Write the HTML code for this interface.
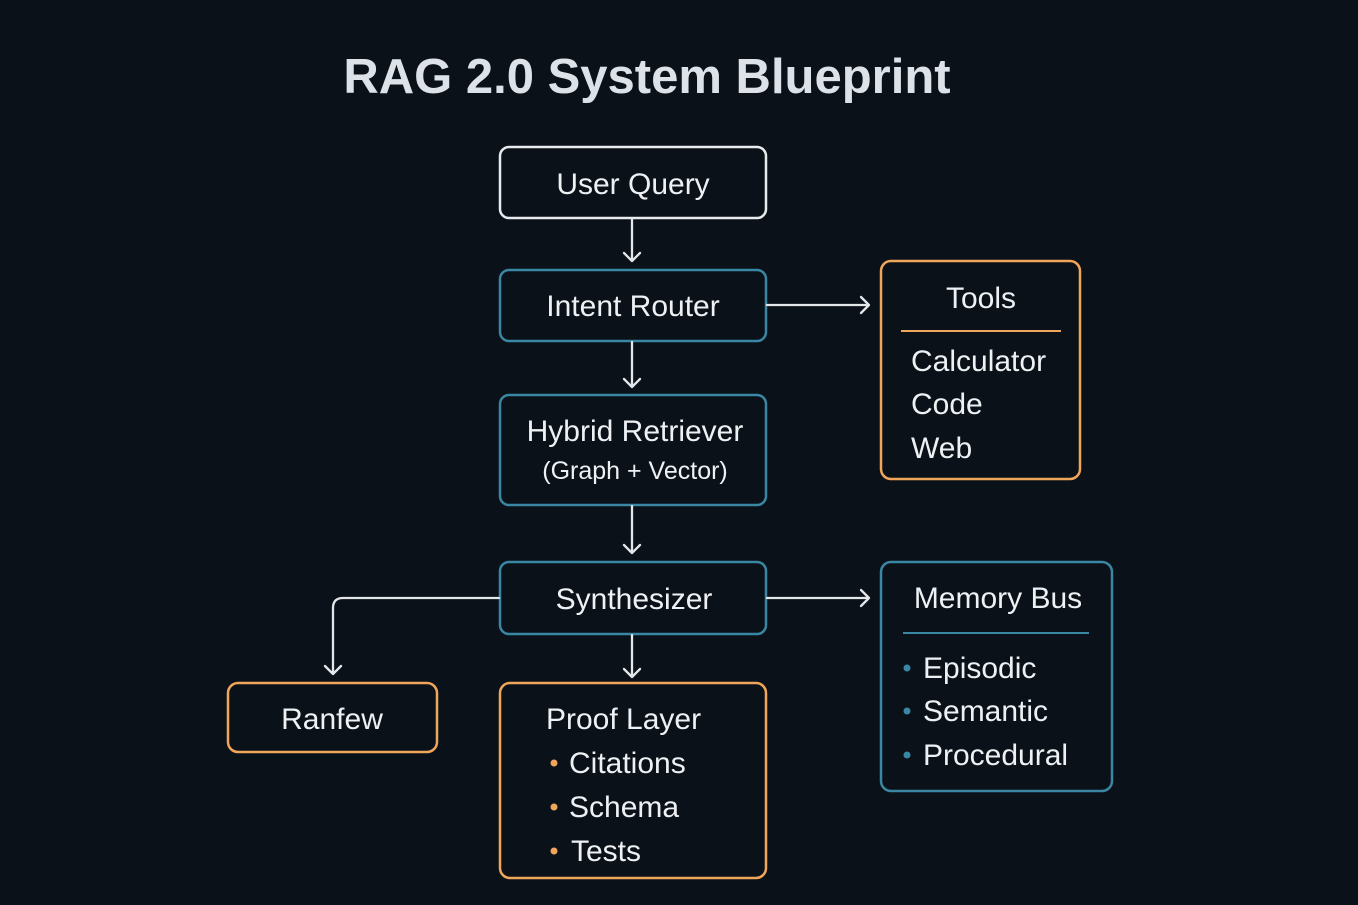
<!DOCTYPE html>
<html><head><meta charset="utf-8"><style>
html,body{margin:0;padding:0;background:#0b1119;}
svg{display:block;}
text{font-family:"Liberation Sans","DejaVu Sans",sans-serif;fill:#eef1f4;}
</style></head><body>
<svg width="1358" height="905" viewBox="0 0 1358 905" xmlns="http://www.w3.org/2000/svg">
<rect width="1358" height="905" fill="#0b1119"/>
<text x="647" y="93" font-size="49" font-weight="bold" text-anchor="middle" style="fill:#dde2e8">RAG 2.0 System Blueprint</text>
<g fill="none" stroke-width="2.5">
<rect x="500" y="147" width="266" height="71" rx="9" stroke="#e8ebee"/>
<rect x="500" y="270" width="266" height="71" rx="9" stroke="#3a87a3"/>
<rect x="500" y="395" width="266" height="110" rx="9" stroke="#3a87a3"/>
<rect x="500" y="562" width="266" height="72" rx="9" stroke="#3a87a3"/>
<rect x="500" y="683" width="266" height="195" rx="10" stroke="#f0a65a"/>
<rect x="228" y="683" width="209" height="69" rx="10" stroke="#f0a65a"/>
<rect x="881" y="261" width="199" height="218" rx="10" stroke="#f0a65a"/>
<rect x="881" y="562" width="231" height="229" rx="10" stroke="#3a87a3"/>
</g>
<line x1="901" y1="331" x2="1061" y2="331" stroke="#f0a65a" stroke-width="2"/>
<line x1="903" y1="633" x2="1089" y2="633" stroke="#3a87a3" stroke-width="2"/>
<g fill="none" stroke="#e4e7ea" stroke-width="2.3" stroke-linecap="round" stroke-linejoin="round">
<path d="M632 219V261M624 253L632 261L640 253"/>
<path d="M632 342V387M624 379L632 387L640 379"/>
<path d="M632 506V553M624 545L632 553L640 545"/>
<path d="M632 635V677M624 669L632 677L640 669"/>
<path d="M767 305H869M861 297L869 305L861 313"/>
<path d="M767 598H869M861 590L869 598L861 606"/>
<path d="M499 598H343Q333 598 333 608V674M325 666L333 674L341 666"/>
</g>
<g font-size="30" text-anchor="middle">
<text x="633" y="194">User Query</text>
<text x="633" y="316">Intent Router</text>
<text x="635" y="441">Hybrid Retriever</text>
<text x="635" y="479" font-size="25">(Graph + Vector)</text>
<text x="634" y="609">Synthesizer</text>
<text x="332" y="729">Ranfew</text>
<text x="981" y="308">Tools</text>
<text x="998" y="608">Memory Bus</text>
</g>
<g font-size="30">
<text x="546" y="729">Proof Layer</text>
<text x="569" y="773">Citations</text>
<text x="569" y="817">Schema</text>
<text x="571" y="861">Tests</text>
<text x="911" y="371">Calculator</text>
<text x="911" y="414">Code</text>
<text x="911" y="458">Web</text>
<text x="923" y="678">Episodic</text>
<text x="923" y="721">Semantic</text>
<text x="923" y="765">Procedural</text>
</g>
<g fill="#f0a65a">
<circle cx="554" cy="763" r="3.5"/><circle cx="554" cy="807" r="3.5"/><circle cx="554" cy="851" r="3.5"/>
</g>
<g fill="#3a87a3">
<circle cx="907" cy="668" r="3.5"/><circle cx="907" cy="711" r="3.5"/><circle cx="907" cy="755" r="3.5"/>
</g>
</svg>
</body></html>
